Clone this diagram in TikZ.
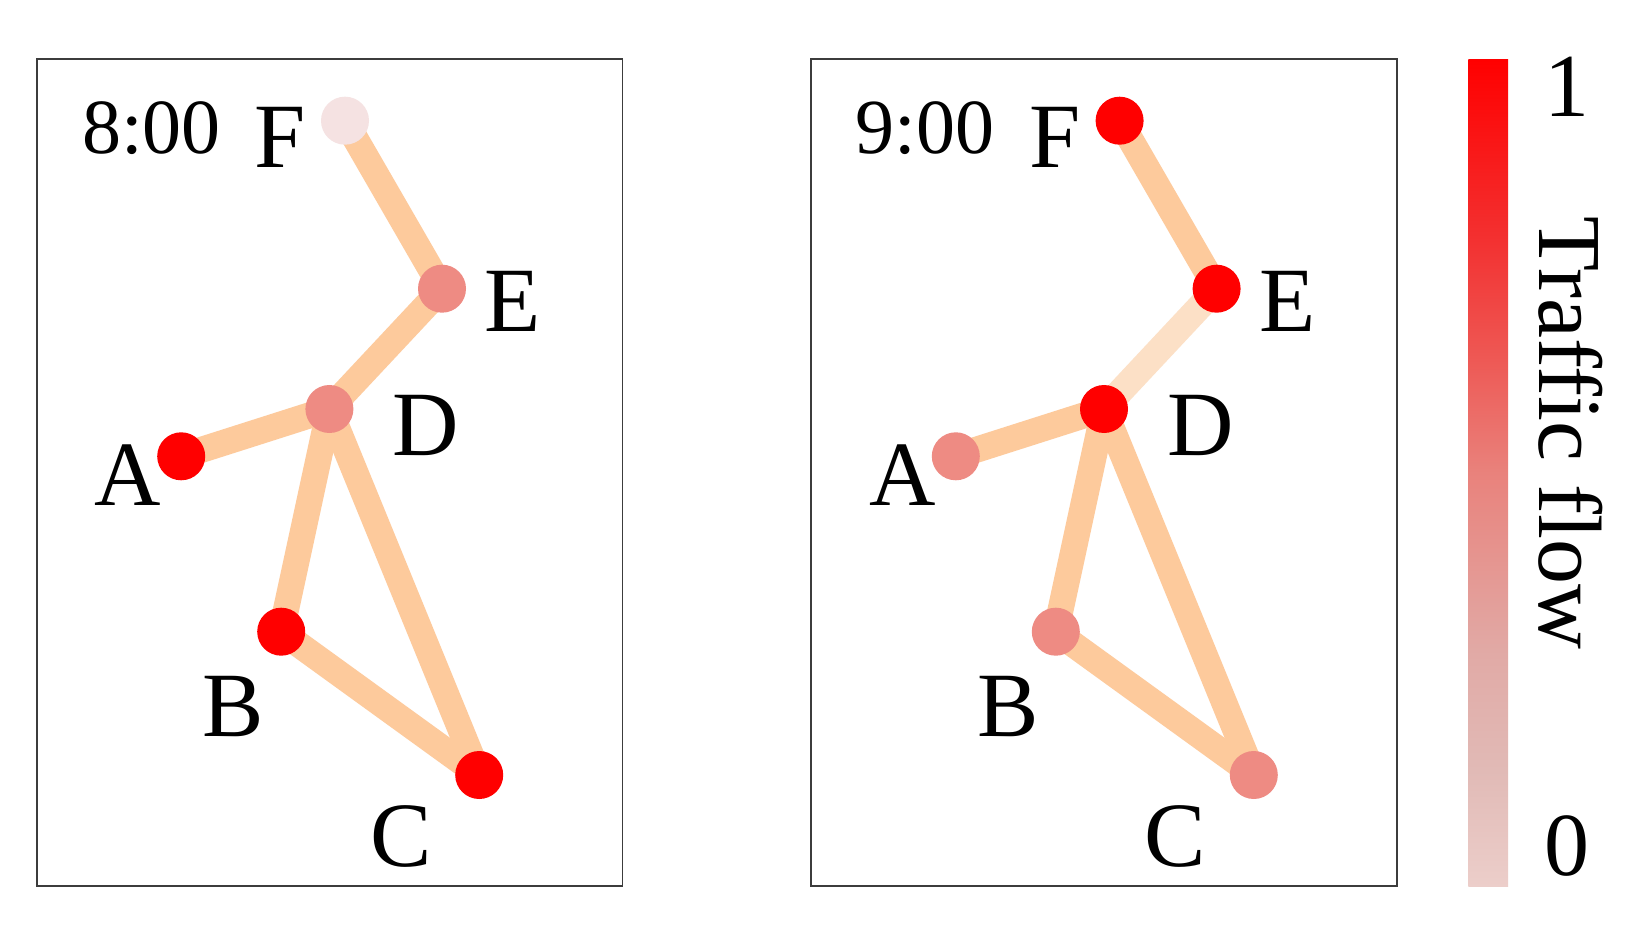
\documentclass[tikz,border=0pt]{standalone}
\usepackage{fontspec}
\setmainfont{Liberation Serif}
\definecolor{edgec}{RGB}{253,202,156}
\definecolor{edgelt}{RGB}{252,224,198}
\definecolor{salmon}{RGB}{238,139,131}
\definecolor{pale}{RGB}{245,226,226}
\definecolor{hot}{RGB}{255,0,0}
\definecolor{framec}{RGB}{60,60,60}
\definecolor{cb0}{RGB}{236,206,202}
\definecolor{cb1}{RGB}{225,186,182}
\definecolor{cb2}{RGB}{225,170,166}
\definecolor{cb3}{RGB}{233,130,124}
\definecolor{cb4}{RGB}{238,88,84}
\definecolor{cb5}{RGB}{243,48,48}
\definecolor{cb6}{RGB}{255,0,0}
\pgfdeclareverticalshading{cbar}{100bp}{color(0bp)=(cb0); color(25bp)=(cb0); color(32bp)=(cb1); color(39bp)=(cb2); color(50bp)=(cb3); color(57bp)=(cb4); color(64.25bp)=(cb5); color(75bp)=(cb6); color(100bp)=(cb6)}
\pgfdeclarelayer{paper}
\pgfdeclarelayer{roads}
\pgfsetlayers{paper,roads,main}
\begin{document}
\begin{tikzpicture}[x=0.5pt,y=-0.5pt,
  station/.style={circle, inner sep=0pt, minimum size=24pt},
  road/.style={line width=13pt, draw=edgec},
  lbl/.style={font=\fontsize{46pt}{46pt}\selectfont, inner sep=0pt, anchor=base},
  timelbl/.style={font=\fontsize{39pt}{39pt}\selectfont, inner sep=0pt, anchor=base},
  barlbl/.style={font=\fontsize{45pt}{45pt}\selectfont, inner sep=0pt, anchor=base},
  panel/.style={draw=framec, line width=0.9pt}]
\begin{pgfonlayer}{paper}
\fill[white] (0,0) rectangle (1637,930);
\end{pgfonlayer}
\useasboundingbox (0,0) rectangle (1637,930);

% frames
\draw[panel] (36.7,59.3) rectangle (622.4,886);
\draw[panel] (811.3,59.3) rectangle (1397,886);

% left panel stations
\node[station, fill=pale]   (aF) at (345,120.7) {};
\node[station, fill=salmon] (aE) at (442,288.7) {};
\node[station, fill=salmon] (aD) at (329.4,409) {};
\node[station, fill=hot]    (aA) at (181.2,456.3) {};
\node[station, fill=hot]    (aB) at (281.2,631.7) {};
\node[station, fill=hot]    (aC) at (479.2,775) {};

% right panel stations
\node[station, fill=hot]    (bF) at (1119.6,120.7) {};
\node[station, fill=hot]    (bE) at (1216.6,288.7) {};
\node[station, fill=hot]    (bD) at (1104,409) {};
\node[station, fill=salmon] (bA) at (955.8,456.3) {};
\node[station, fill=salmon] (bB) at (1055.8,631.7) {};
\node[station, fill=salmon] (bC) at (1253.8,775) {};

% roads (behind stations)
\begin{pgfonlayer}{roads}
\draw[road] (aF.center) -- (aE.center);
\draw[road] (aE.center) -- (aD.center);
\draw[road] (aD.center) -- (aA.center);
\draw[road] (aD.center) -- (aB.center);
\draw[road] (aD.center) -- (aC.center);
\draw[road] (aB.center) -- (aC.center);
\draw[road] (bF.center) -- (bE.center);
\draw[road, draw=edgelt] (bE.center) -- (bD.center);
\draw[road] (bD.center) -- (bA.center);
\draw[road] (bD.center) -- (bB.center);
\draw[road] (bD.center) -- (bC.center);
\draw[road] (bB.center) -- (bC.center);
\end{pgfonlayer}

% labels left
\node[timelbl] (t1) at (151.5,154) {8:00};
\node[lbl] (laF) at (280.5,168) {F};
\node[lbl] (laE) at (513,332) {E};
\node[lbl] (laD) at (426,455.7) {D};
\node[lbl] (laA) at (128,505) {A};
\node[lbl] (laB) at (233.5,736.7) {B};
\node[lbl] (laC) at (401,866) {C};

% labels right
\node[timelbl] (t2) at (925,154) {9:00};
\node[lbl] (lbF) at (1055.1,168) {F};
\node[lbl] (lbE) at (1287.6,332) {E};
\node[lbl] (lbD) at (1200.6,455.7) {D};
\node[lbl] (lbA) at (902.6,505) {A};
\node[lbl] (lbB) at (1008.1,736.7) {B};
\node[lbl] (lbC) at (1175.6,866) {C};

% colour bar
\node[shading=cbar, inner sep=0pt, minimum width=19.85pt, minimum height=413.35pt, anchor=north west] (bar) at (1468,59) {};
\node[barlbl] (one) at (1567,117) {1};
\node[barlbl] (zero) at (1567,875.5) {0};
\node[barlbl, rotate=-90] (ttl) at (1539,433) {Traffic flow};
\end{tikzpicture}
\end{document}
